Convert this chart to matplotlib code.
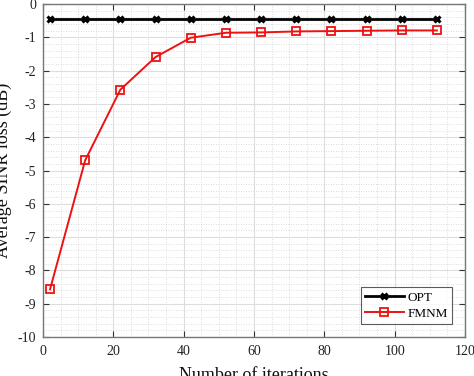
import matplotlib
matplotlib.use("Agg")
import matplotlib.pyplot as plt
from matplotlib.ticker import MultipleLocator

iterations = [2, 12, 22, 32, 42, 52, 62, 72, 82, 92, 102, 112]
opt_loss = [-0.45] * 12
fmnm_loss = [-8.57, -4.69, -2.57, -1.59, -1.01, -0.86, -0.85, -0.82, -0.81, -0.80, -0.79, -0.79]

x_ticks = [0, 20, 40, 60, 80, 100, 120]
y_ticks = [0, -1, -2, -3, -4, -5, -6, -7, -8, -9, -10]

plt.rcParams['font.family'] = ['Liberation Serif', 'DejaVu Serif']

fig = plt.figure(figsize=(4.74, 3.76), dpi=100)
ax = fig.add_axes([0.0907, 0.1037, 0.8903, 0.8853])

ax.plot(iterations, opt_loss, color='black', linewidth=2.0, marker='x',
        markersize=5, markeredgewidth=2.2, label='OPT', zorder=3)
ax.plot(iterations, fmnm_loss, color='#ee1111', linewidth=1.4, marker='s',
        markersize=6, markerfacecolor='none', markeredgewidth=1.3,
        markeredgecolor='#ee1111', label='FMNM', zorder=3)

ax.set_xlim(0, 120)
ax.set_ylim(-10, 0)
ax.set_xticks(x_ticks)
ax.set_yticks(y_ticks)
ax.set_yticklabels([str(v) for v in y_ticks])
ax.xaxis.set_minor_locator(MultipleLocator(5))
ax.yaxis.set_minor_locator(MultipleLocator(0.2))

ax.grid(which='major', color='#dddddd', linewidth=0.8, linestyle='-')
ax.grid(which='minor', color='#d0d0d0', linewidth=0.6, linestyle=(0, (1, 2)))
ax.set_axisbelow(True)

ax.tick_params(which='major', direction='in', length=4, top=True, right=True,
               labelsize=10, colors='#333333', labelcolor='#222222')
ax.tick_params(axis='x', which='major', pad=6)
ax.tick_params(axis='y', which='major', pad=5)
ax.tick_params(which='minor', length=0, top=True, right=True)
for s in ax.spines.values():
    s.set_color('#777777')
    s.set_linewidth(1.0)

ax.set_xlabel('Number of iterations', fontsize=13, labelpad=6, color='#111111')
ax.set_ylabel('Average SINR loss (dB)', fontsize=13, labelpad=4, color='#111111')

leg = ax.legend(loc='lower right', fontsize=9.5, frameon=True, fancybox=False,
                edgecolor='#333333', handlelength=2.9, borderpad=0.3,
                labelspacing=0.3, handletextpad=0.3, borderaxespad=1.0)
leg.get_frame().set_linewidth(0.8)

fig.savefig('out.png', dpi=100)
